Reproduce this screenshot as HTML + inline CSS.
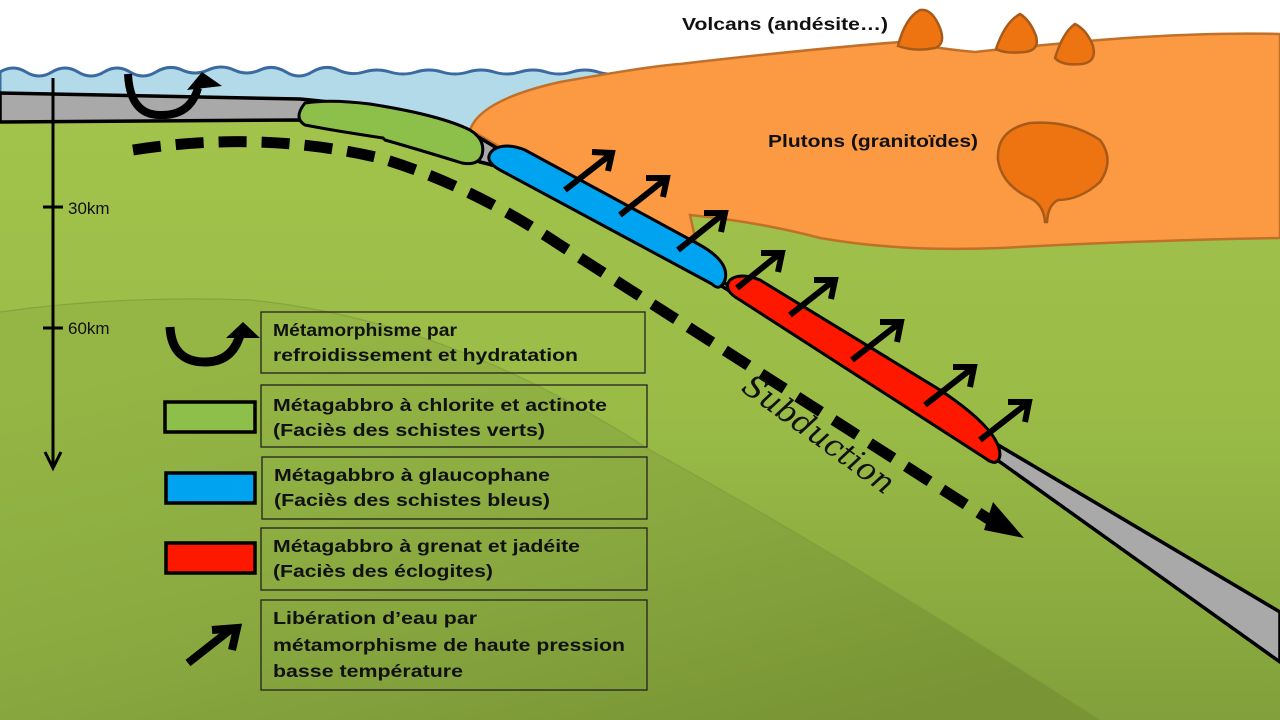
<!DOCTYPE html>
<html><head><meta charset="utf-8"><style>
html,body{margin:0;padding:0;background:#fff;}
svg{display:block;}
.t{font-family:"Liberation Sans",sans-serif;font-weight:bold;font-size:17.5px;fill:#111;}
</style></head><body>
<svg width="1280" height="720" viewBox="0 0 1280 720" xmlns="http://www.w3.org/2000/svg">
<defs>
<linearGradient id="g1" gradientUnits="userSpaceOnUse" x1="0" y1="100" x2="0" y2="720">
<stop offset="0" stop-color="#a2c44c"/><stop offset="0.5" stop-color="#9abc47"/><stop offset="1" stop-color="#82a03b"/>
</linearGradient>
<linearGradient id="g2" x1="0.2" y1="0.1" x2="0.8" y2="1">
<stop offset="0" stop-color="#95b645"/><stop offset="0.5" stop-color="#8aaa40"/><stop offset="1" stop-color="#789435"/>
</linearGradient>
</defs>
<rect width="1280" height="720" fill="#fff"/>
<path d="M0,72 Q13,64 26,72 T52,72 T78,72 T104,72 T130,72 T156,72 T182,70 T208,70 T234,70 T260,70 T286,72 T312,72 T338,70 T364,72 T390,72 T416,72 T442,72 T468,72 T494,72 T520,72 T546,72 T572,72 T598,72 T624,72 T650,72 L680,72 L680,300 L0,300 Z" fill="#b3dae8" stroke="#3a6aa0" stroke-width="3"/>
<path d="M0,110 L300,112 Q420,130 500,150 L700,120 L1280,100 L1280,720 L0,720 Z" fill="url(#g1)"/>
<path d="M0,312 Q120,295 250,300 Q450,320 650,450 Q850,560 1100,720 L0,720 Z" fill="url(#g2)"/>
<path d="M0,312 Q120,295 250,300 Q450,320 650,450 Q850,560 1100,720" fill="none" stroke="#7f9a3c" stroke-width="1.2" opacity="0.7"/>
<path d="M470,130 Q480,100 560,82 Q650,66 680,64 Q800,50 900,42 Q950,50 975,52 Q1030,46 1100,40 Q1200,32 1280,34 L1280,238 Q1150,240 1000,248 Q900,252 820,238 Q760,222 690,215 L700,260 Z" fill="#fb9a43" stroke="#c07028" stroke-width="2.5"/>
<path d="M898,46 Q905,18 920,10 Q932,8 940,28 Q946,44 935,48 Q915,52 898,46 Z" fill="#ee7412" stroke="#a85a18" stroke-width="2.5"/>
<path d="M996,49 Q1005,22 1020,14 Q1030,20 1036,36 Q1040,50 1025,52 Q1005,54 996,49 Z" fill="#ee7412" stroke="#a85a18" stroke-width="2.5"/>
<path d="M1055,58 Q1063,32 1075,24 Q1087,30 1093,46 Q1097,62 1082,64 Q1062,66 1055,58 Z" fill="#ee7412" stroke="#a85a18" stroke-width="2.5"/>
<path d="M1045,222 Q1044,205 1030,198 Q1002,185 998,160 Q996,130 1030,123 Q1070,120 1100,140 Q1115,160 1100,182 Q1080,200 1058,200 Q1048,205 1047,222 Z" fill="#ee7412" stroke="#a85a18" stroke-width="2.5"/>
<path d="M0,93 L300,99 Q420,110 480,138 L1280,612 L1280,662 L1000,462 L720,285 Q560,180 480,162 Q380,125 300,120 L0,122 Z" fill="#a9a9aa" stroke="#000" stroke-width="3.5" stroke-linejoin="round"/>
<path d="M305,103 Q330,99 370,104 Q440,115 470,130 Q486,140 482,155 Q478,166 462,163 Q420,150 385,140 L383,138 Q330,130 305,125 Q293,118 305,103 Z" fill="#8cc04a" stroke="#000" stroke-width="3"/>
<path d="M493,150 Q505,142 525,150 L700,245 Q730,262 725,280 Q720,292 712,284 L500,170 Q482,160 493,150 Z" fill="#00a3ef" stroke="#000" stroke-width="3"/>
<path d="M730,280 Q740,272 760,280 L940,390 Q1000,430 1000,455 Q998,468 985,458 L740,300 Q722,290 730,280 Z" fill="#ff1800" stroke="#000" stroke-width="3"/>
<path d="M133,150 Q260,130 380,158 Q470,185 560,245 L990,520" fill="none" stroke="#000" stroke-width="11" stroke-dasharray="28,15"/>
<path d="M993,502 L1024,538 L984,530 Z" fill="#000"/>
<text x="0" y="0" transform="translate(740,390) rotate(36)" font-family="'DejaVu Serif','Liberation Serif',serif" font-style="italic" font-size="31" fill="#111">Subduction</text>
<path d="M128,74 Q130,115 160,115 Q190,116 198,88" fill="none" stroke="#000" stroke-width="8"/>
<path d="M187,90 L202,72 L222,86 Z" fill="#000"/>
<g stroke="#000" stroke-width="6" fill="none" stroke-linecap="butt">
<path d="M565,190 L610,155 M592,152 L612,153 L608,171"/>
<path d="M620,215 L663,181 M646,178 L667,178 L663,197"/>
<path d="M678,250 L722,215 M704,213 L725,213 L721,232"/>
<path d="M737,288 L778,255 M761,253 L782,253 L778,272"/>
<path d="M790,315 L832,282 M814,280 L835,280 L831,299"/>
<path d="M852,360 L897,325 M880,322 L901,322 L897,342"/>
<path d="M925,405 L970,370 M953,367 L974,367 L970,387"/>
<path d="M980,440 L1025,405 M1008,402 L1029,402 L1025,422"/>
</g>
<line x1="53" y1="78" x2="53" y2="466" stroke="#000" stroke-width="3"/>
<path d="M45,452 L53,468 L61,452" fill="none" stroke="#000" stroke-width="3"/>
<line x1="43" y1="207" x2="63" y2="207" stroke="#000" stroke-width="3"/>
<line x1="43" y1="328" x2="63" y2="328" stroke="#000" stroke-width="3"/>
<text x="68" y="214" font-family="'Liberation Sans',sans-serif" font-size="17" fill="#111">30km</text>
<text x="68" y="334" font-family="'Liberation Sans',sans-serif" font-size="17" fill="#111">60km</text>
<g fill="none" stroke="#222" stroke-width="1.3">
<rect x="261" y="312" width="384" height="61"/>
<rect x="261" y="385" width="386" height="62"/>
<rect x="262" y="457" width="385" height="62"/>
<rect x="261" y="528" width="386" height="62"/>
<rect x="261" y="600" width="386" height="90"/>
</g>
<path d="M170,327 Q172,362 205,362 Q232,362 240,335" fill="none" stroke="#000" stroke-width="9"/>
<path d="M226,338 L243,322 L260,338 Z" fill="#000"/>
<rect x="165" y="402" width="90" height="30" fill="#8cc04a" stroke="#000" stroke-width="3.5"/>
<rect x="166" y="473" width="89" height="30" fill="#00a3ef" stroke="#000" stroke-width="3.5"/>
<rect x="166" y="543" width="89" height="30" fill="#ff1800" stroke="#000" stroke-width="3.5"/>
<g stroke="#000" stroke-width="8" fill="none"><path d="M188,663 L230,630 M212,630 L237,628 L232,650"/></g>
<text class="t" x="273" y="336" textLength="184" lengthAdjust="spacingAndGlyphs">Métamorphisme par</text>
<text class="t" x="273" y="361" textLength="305" lengthAdjust="spacingAndGlyphs">refroidissement et hydratation</text>
<text class="t" x="273" y="411" textLength="334" lengthAdjust="spacingAndGlyphs">Métagabbro à chlorite et actinote</text>
<text class="t" x="273" y="436" textLength="272" lengthAdjust="spacingAndGlyphs">(Faciès des schistes verts)</text>
<text class="t" x="274" y="481" textLength="276" lengthAdjust="spacingAndGlyphs">Métagabbro à glaucophane</text>
<text class="t" x="274" y="506" textLength="276" lengthAdjust="spacingAndGlyphs">(Faciès des schistes bleus)</text>
<text class="t" x="273" y="552" textLength="307" lengthAdjust="spacingAndGlyphs">Métagabbro à grenat et jadéite</text>
<text class="t" x="273" y="577" textLength="220" lengthAdjust="spacingAndGlyphs">(Faciès des éclogites)</text>
<text class="t" x="273" y="624" textLength="204" lengthAdjust="spacingAndGlyphs">Libération d’eau par</text>
<text class="t" x="273" y="651" textLength="352" lengthAdjust="spacingAndGlyphs">métamorphisme de haute pression</text>
<text class="t" x="273" y="677" textLength="190" lengthAdjust="spacingAndGlyphs">basse température</text>
<text class="t" x="682" y="30" textLength="206" lengthAdjust="spacingAndGlyphs">Volcans (andésite…)</text>
<text class="t" x="768" y="147" textLength="210" lengthAdjust="spacingAndGlyphs">Plutons (granitoïdes)</text>
</svg>
</body></html>
